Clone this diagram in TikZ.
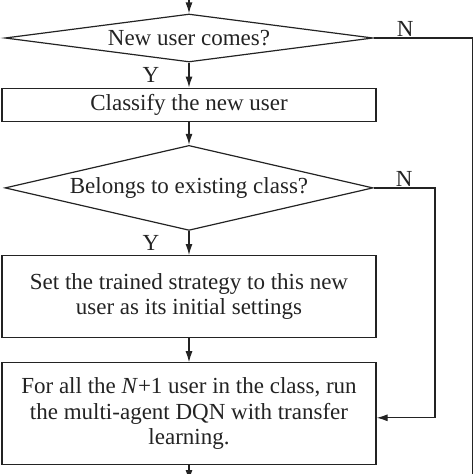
\documentclass[tikz,border=0pt]{standalone}
\usepackage{fontspec}
\setmainfont{Liberation Serif}
\usetikzlibrary{arrows.meta,positioning,shapes.geometric}
\definecolor{inkgray}{RGB}{35,35,35}

\begin{document}
\begin{tikzpicture}[x=1pt, y=-1pt, >={Latex[length=11pt,width=7pt]},
  line width=1.2pt, draw=inkgray,
  every node/.style={font=\fontsize{23}{25.5}\selectfont, text=inkgray},
  decision/.style={draw, diamond, inner sep=0pt, minimum width=368pt},
  process/.style={draw, rectangle, align=center, minimum width=374pt},
  lbl/.style={inner sep=1pt}]
  \useasboundingbox (0,0) rectangle (474,474);
  \node[decision, minimum height=48pt, aspect=7.7] (d1) at (189,38) {New user comes?};
  \node[process, below=25pt of d1, minimum height=33pt, inner sep=0pt] (p1) {Classify the new user};
  \node[decision, below=23pt of p1, minimum height=85pt, aspect=4.3] (d2) {Belongs to existing class?};
  \node[process, below=24pt of d2, minimum height=82pt] (p2) {Set the trained strategy to this new\\user as its initial settings};
  \node[process, below=24pt of p2, minimum height=102pt] (p3) {For all the \textit{N}+1 user in the class, run\\the multi-agent DQN with transfer\\learning.};
  \coordinate (topin) at (189,-4);
  \coordinate (botout) at (189,481);
  \coordinate (farR) at (472.5,480);
  \coordinate (nearR) at (435,0);
  \draw[->] (topin) -- (d1);
  \draw[->] (d1) -- node[lbl, xshift=-38pt] {Y} (p1);
  \draw[->] (p1) -- (d2);
  \draw[->] (d2) -- node[lbl, xshift=-38pt] {Y} (p2);
  \draw[->] (p2) -- (p3);
  \draw[->] (p3) -- (botout);
  \draw (d1.east) -| node[lbl, above, pos=0.16] {N} (farR);
  \draw[->] (d2.east) -- node[lbl, above] {N} (d2.east -| nearR) |- ([yshift=-4pt]p3.east);
\end{tikzpicture}
\end{document}
